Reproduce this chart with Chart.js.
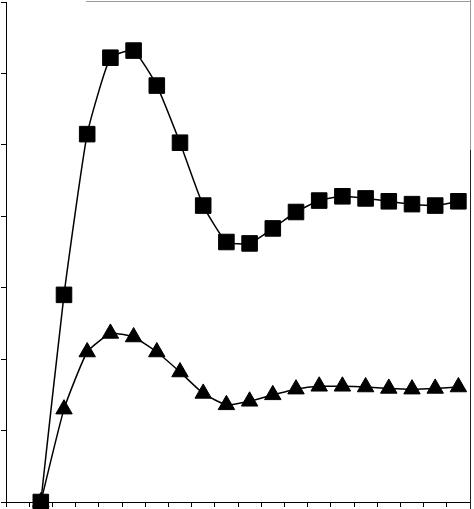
<!DOCTYPE html>
<html>
<head>
<meta charset="utf-8">
<script src="https://cdn.jsdelivr.net/npm/chart.js@4/dist/chart.umd.min.js"></script>
<style>
  html, body { margin: 0; padding: 0; background: #fff; }
  #wrap { width: 474px; height: 509px; position: relative; }
</style>
</head>
<body>
<div id="wrap"><canvas id="c" width="474" height="509"></canvas></div>
<script>
// x positions (sample index)
const timePoints = [0, 1, 2, 3, 4, 5, 6, 7, 8, 9, 10, 11, 12, 13, 14, 15, 16, 17, 18];
// upper series (filled squares)
const squareSeries = [0, 29.0, 51.5, 62.2, 63.2, 58.3, 50.3, 41.5, 36.4, 36.2, 38.3, 40.6, 42.2, 42.8, 42.5, 42.1, 41.7, 41.5, 42.1];
// lower series (filled triangles)
const triangleSeries = [0, 13.0, 21.0, 23.6, 23.1, 21.0, 18.2, 15.2, 13.6, 14.1, 15.0, 15.8, 16.2, 16.2, 16.1, 15.9, 15.8, 15.9, 16.1];
// axis extents / tick values
const xTickValues = [-1.5, -0.5, 0.5, 1.5, 2.5, 3.5, 4.5, 5.5, 6.5, 7.5, 8.5, 9.5, 10.5, 11.5, 12.5, 13.5, 14.5, 15.5, 16.5, 17.5, 18.5];
const yTickValues = [0, 10, 20, 30, 40, 50, 60, 70];

const toXY = (arr) => arr.map((v, i) => ({ x: timePoints[i], y: v }));

const framePlugin = {
  id: 'frame',
  afterDraw(chart) {
    const ctx = chart.ctx;
    const a = chart.chartArea;
    ctx.save();
    ctx.lineWidth = 1;
    ctx.strokeStyle = '#9a9a9a';
    ctx.beginPath();
    ctx.moveTo(a.left + 80, 1.5);
    ctx.lineTo(a.right + 1, 1.5);
    ctx.moveTo(a.right + 0.5, 0);
    ctx.lineTo(a.right + 0.5, 150);
    ctx.stroke();
    ctx.strokeStyle = '#222';
    ctx.beginPath();
    ctx.moveTo(a.right + 0.5, 150);
    ctx.lineTo(a.right + 0.5, chart.height);
    ctx.stroke();
    ctx.restore();
  }
};

new Chart(document.getElementById('c'), {
  type: 'line',
  data: {
    datasets: [
      {
        data: toXY(squareSeries),
        borderColor: '#000',
        backgroundColor: '#000',
        borderWidth: 1.5,
        pointStyle: 'rect',
        pointRadius: 11,
        pointBorderWidth: 1,
        pointBackgroundColor: '#000',
        pointBorderColor: '#000',
        tension: 0.15,
        clip: false
      },
      {
        data: toXY(triangleSeries),
        borderColor: '#000',
        backgroundColor: '#000',
        borderWidth: 1.5,
        pointStyle: 'triangle',
        pointRadius: 9.5,
        pointBorderWidth: 1,
        pointBackgroundColor: '#000',
        pointBorderColor: '#000',
        tension: 0.15,
        clip: false
      }
    ]
  },
  options: {
    responsive: false,
    animation: false,
    layout: { autoPadding: false, padding: { left: 1, right: 4, top: 2, bottom: 2 } },
    plugins: { legend: { display: false }, tooltip: { enabled: false } },
    scales: {
      x: {
        type: 'linear',
        min: xTickValues[0],
        max: xTickValues[xTickValues.length - 1],
        afterBuildTicks(scale) { scale.ticks = xTickValues.map(v => ({ value: v })); },
        ticks: { display: false },
        grid: { drawOnChartArea: false, drawTicks: true, tickLength: 5, color: '#000', lineWidth: 1 },
        border: { display: true, color: '#000', width: 1 }
      },
      y: {
        type: 'linear',
        min: yTickValues[0],
        max: yTickValues[yTickValues.length - 1],
        afterBuildTicks(scale) { scale.ticks = yTickValues.map(v => ({ value: v })); },
        ticks: { display: false },
        grid: { drawOnChartArea: false, drawTicks: true, tickLength: 5, color: '#000', lineWidth: 1 },
        border: { display: true, color: '#000', width: 1 }
      }
    }
  },
  plugins: [framePlugin]
});
</script>
</body>
</html>
